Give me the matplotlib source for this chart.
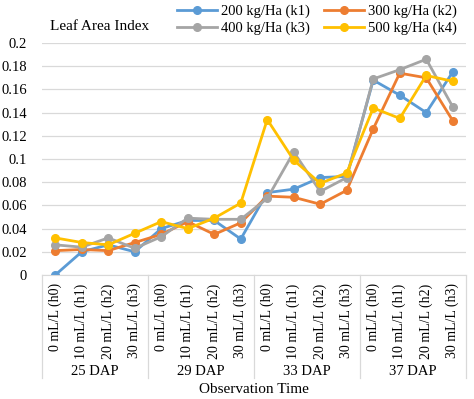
import numpy as np
import matplotlib.pyplot as plt

plt.rcParams['font.family'] = ['Liberation Serif', 'DejaVu Serif']

groups = ['25 DAP', '29 DAP', '33 DAP', '37 DAP']
doses = ['0 mL/L (h0)', '10 mL/L (h1)', '20 mL/L (h2)', '30 mL/L (h3)']
cats = [d for g in groups for d in doses]

k1 = [0.000, 0.020, 0.026, 0.020, 0.040, 0.047, 0.047, 0.031,
      0.071, 0.074, 0.084, 0.085, 0.168, 0.155, 0.140, 0.175]
k2 = [0.021, 0.022, 0.021, 0.028, 0.035, 0.046, 0.035, 0.045,
      0.068, 0.067, 0.061, 0.073, 0.126, 0.174, 0.170, 0.133]
k3 = [0.026, 0.024, 0.032, 0.023, 0.033, 0.049, 0.048, 0.048,
      0.066, 0.106, 0.072, 0.084, 0.169, 0.177, 0.186, 0.145]
k4 = [0.032, 0.028, 0.026, 0.036, 0.046, 0.040, 0.049, 0.062,
      0.134, 0.099, 0.079, 0.088, 0.144, 0.135, 0.172, 0.167]

series = [(k1, '200 kg/Ha (k1)', '#5B9BD5'),
          (k2, '300 kg/Ha (k2)', '#ED7D31'),
          (k3, '400 kg/Ha (k3)', '#A5A5A5'),
          (k4, '500 kg/Ha (k4)', '#FFC000')]

fig = plt.figure(figsize=(4.74, 3.99), dpi=100)
ax = fig.add_axes([42/474, 1-275/399, 424/474, 232/399])

x = np.arange(len(cats))
lines = []
for vals, lab, col in series:
    ln, = ax.plot(x, vals, '-o', color=col, lw=2.0, ms=5.5, label=lab)
    lines.append(ln)

ax.set_xlim(-0.5, len(cats)-0.5)
ax.set_ylim(0, 0.2)
ax.set_yticks(np.arange(0, 0.201, 0.02))
ax.set_yticklabels(['0', '0.02', '0.04', '0.06', '0.08', '0.1', '0.12', '0.14', '0.16', '0.18', '0.2'])
ax.yaxis.grid(True, color='#d9d9d9', lw=0.9)
ax.set_axisbelow(True)
for s in ['top', 'right', 'left']:
    ax.spines[s].set_visible(False)
ax.spines['bottom'].set_color('#d9d9d9')
ax.tick_params(axis='y', length=0, labelsize=10.5, pad=11)
ax.set_xticks(x)
ax.set_xticklabels(cats, rotation=90, fontsize=10)
ax.tick_params(axis='x', length=0, pad=6)

# group separators and labels
trans = ax.get_xaxis_transform()
n = len(doses)
for i in range(len(groups)+1):
    ax.plot([i*n-0.5]*2, [0, -0.445], color='#d9d9d9', lw=0.9,
            transform=trans, clip_on=False)
for i, g in enumerate(groups):
    ax.text(i*n+(n-1)/2, -0.417, g, transform=trans, ha='center', va='center', fontsize=10.5)

ax.text(0.5, -0.493, 'Observation Time', transform=ax.transAxes, ha='center', va='center', fontsize=11)
fig.text(50/474, 1-27/399, 'Leaf Area Index', ha='left', va='center', fontsize=11)

# legend filled row by row
order = [0, 2, 1, 3]
fig.legend([lines[i] for i in order], [series[i][1] for i in order],
           loc='upper right', bbox_to_anchor=(0.992, 1.022), ncol=2, frameon=False,
           fontsize=10.5, handlelength=2.7, columnspacing=1.0, handletextpad=0.3,
           labelspacing=0.25)

fig.savefig('out.png', dpi=100)
